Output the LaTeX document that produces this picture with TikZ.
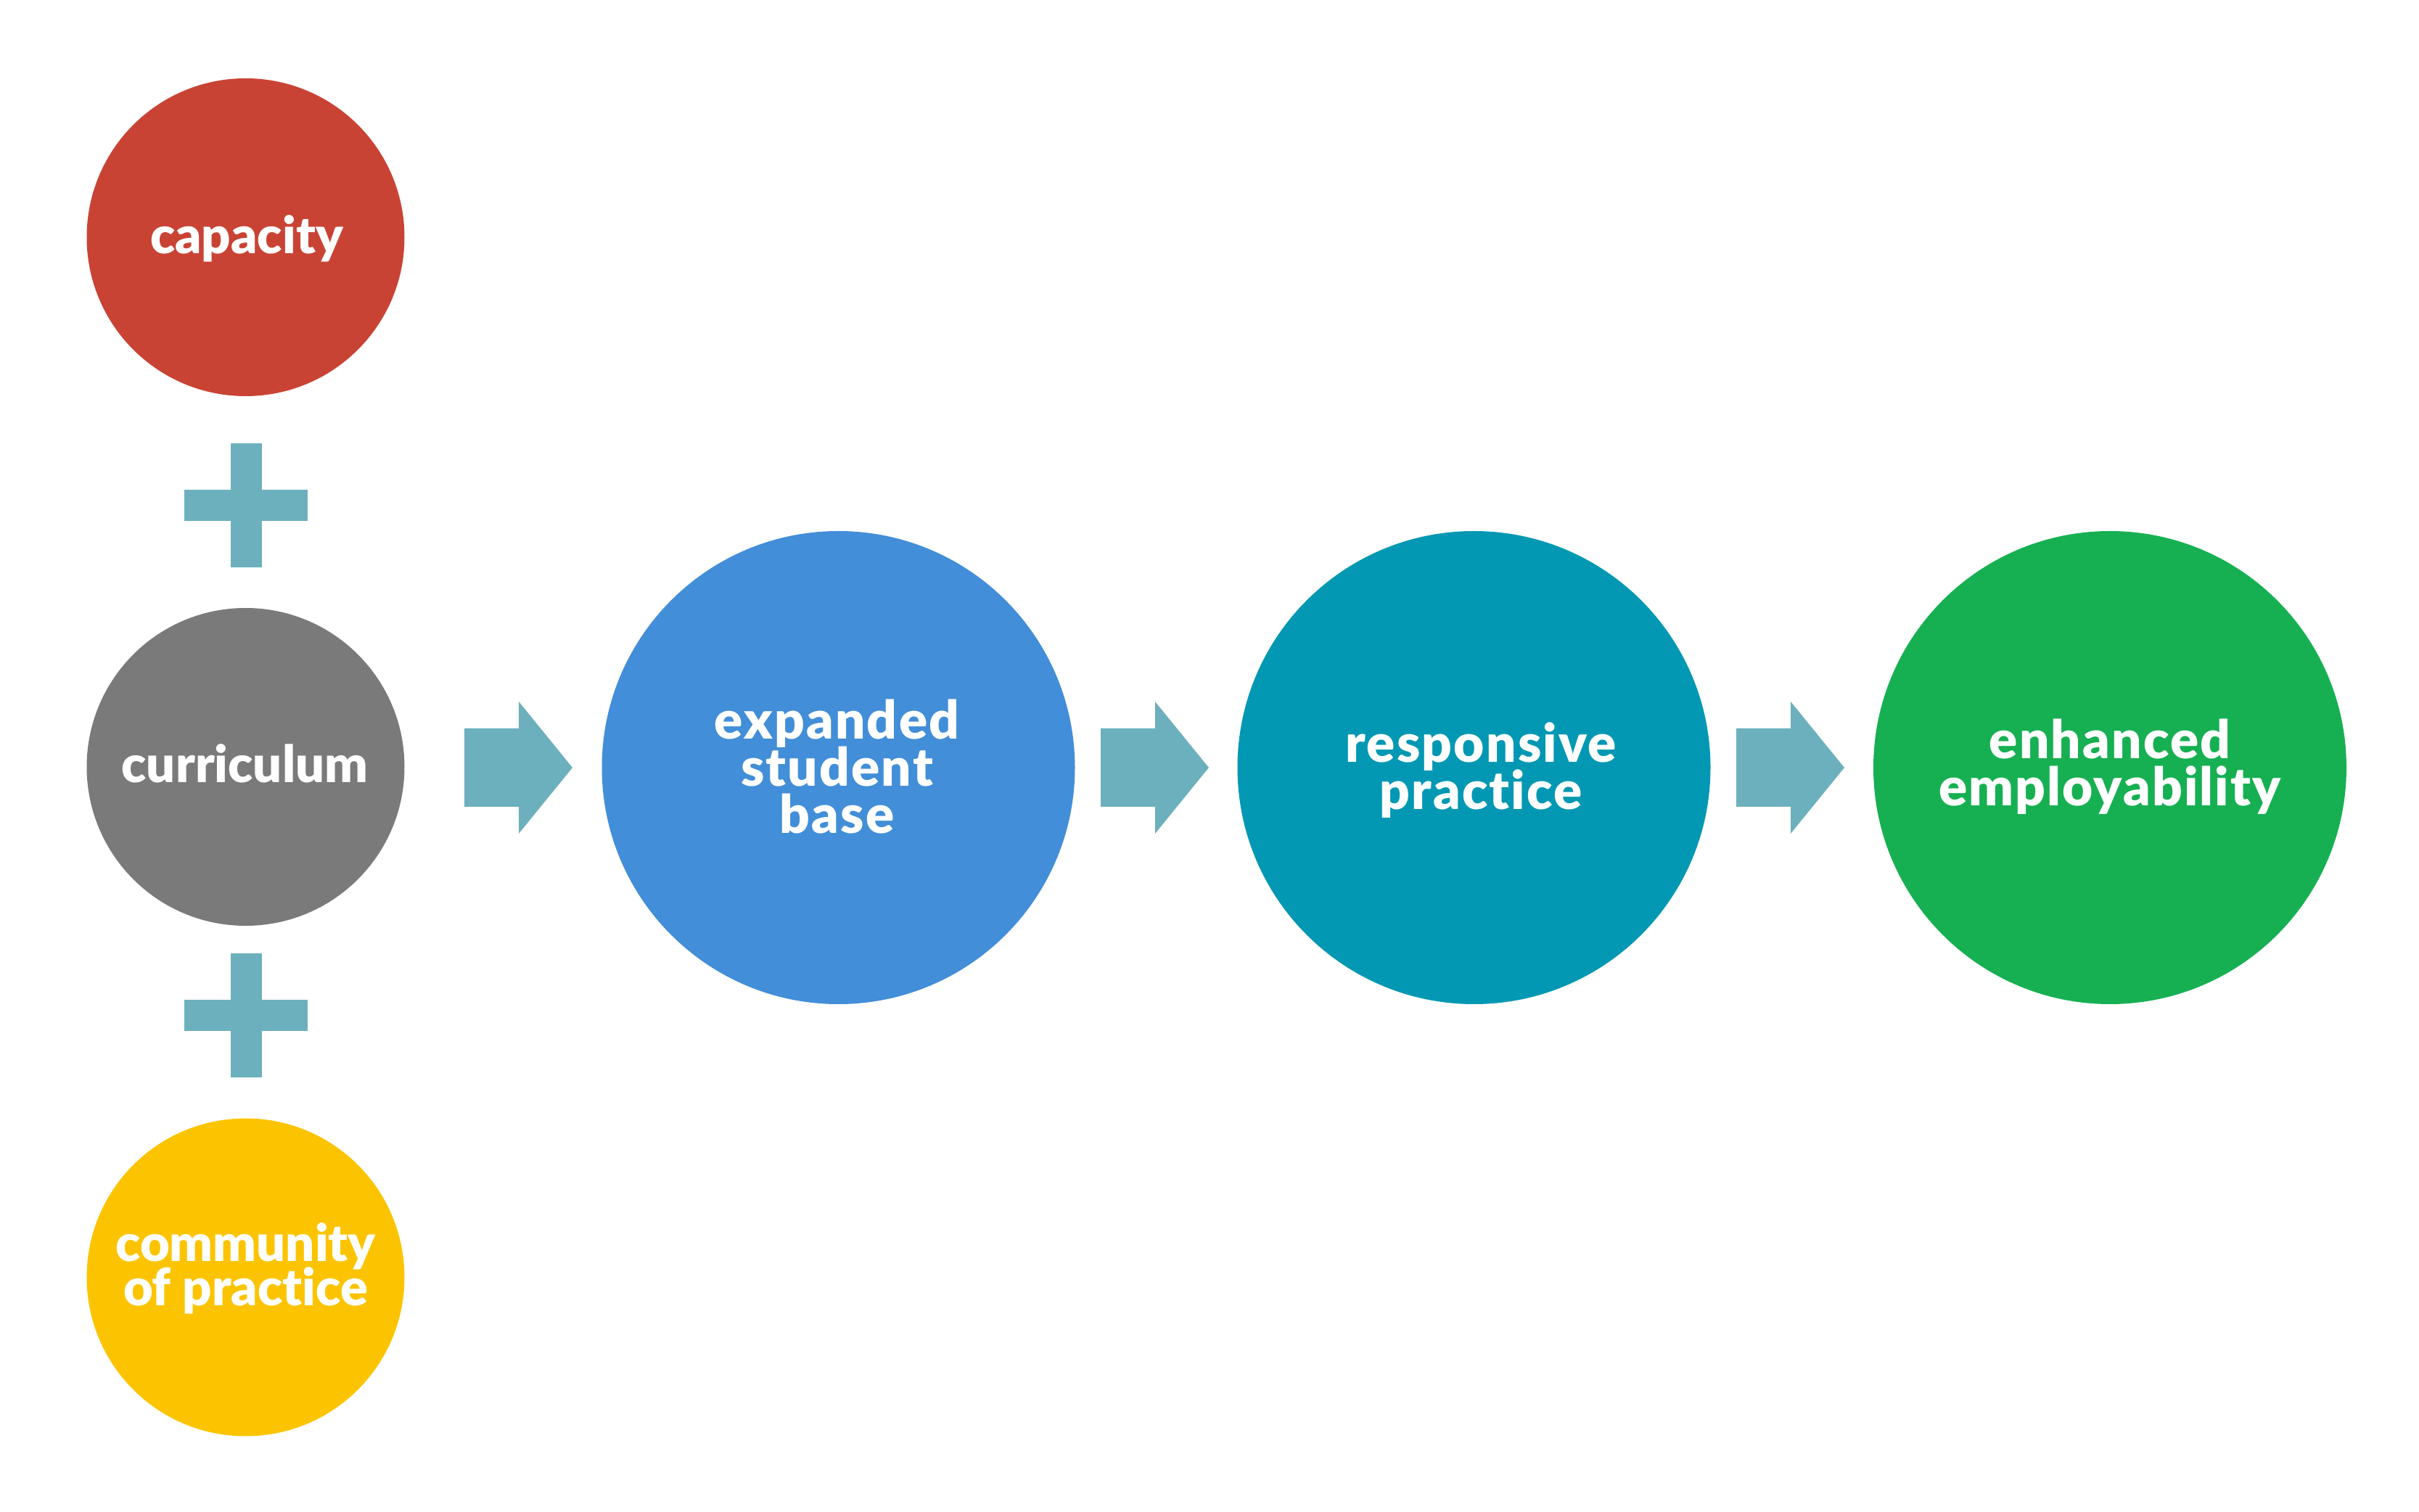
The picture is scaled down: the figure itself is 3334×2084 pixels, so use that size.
\documentclass[tikz,border=0pt]{standalone}
\usepackage{fontspec}
\setmainfont{Lato}[Ligatures=NoCommon]
\newfontfamily\lblfont{Lato Black}[Ligatures=NoCommon]
\newfontfamily\lblwidefont{Lato Black}[Ligatures=NoCommon,LetterSpace=3]
\definecolor{capred}{HTML}{C94334}
\definecolor{curgray}{HTML}{7A7A7A}
\definecolor{comyellow}{HTML}{FCC400}
\definecolor{expblue}{HTML}{428ED8}
\definecolor{respteal}{HTML}{0298B3}
\definecolor{enhgreen}{HTML}{16B052}
\definecolor{arrowteal}{HTML}{6DB0BD}
\begin{document}
\begin{tikzpicture}[x=0.25pt,y=-0.25pt,
  smallcirc/.style={circle,inner sep=0pt,draw=none,minimum size=109.5pt},
  bigcirc/.style={circle,inner sep=0pt,draw=none,minimum size=163pt},
  lbl/.style={text=white,anchor=base,align=center,inner sep=0pt,
    font={\fontsize{17.6}{16.25}\lblfont\lineskiplimit=-100pt}},
  lblc/.style={lbl,font={\fontsize{17.6}{15.25}\lblfont\lineskiplimit=-100pt}},
  lblw/.style={lbl,font={\fontsize{18.2}{16.25}\lblwidefont\lineskiplimit=-100pt}},
  blockfill/.style={fill=arrowteal}]
\useasboundingbox (0,0) rectangle (3334,2084);
% circles
\node[smallcirc,fill=capred] (cap) at (338.5,327) {};
\node[smallcirc,fill=curgray] (cur) at (338.5,1057) {};
\node[smallcirc,fill=comyellow] (com) at (338.5,1760.5) {};
\node[bigcirc,fill=expblue] (exp) at (1155.5,1058) {};
\node[bigcirc,fill=respteal] (resp) at (2031.5,1058) {};
\node[bigcirc,fill=enhgreen] (enh) at (2908,1058) {};
% labels (base anchor = baseline of the last line)
\node[lbl] (capl) at (340,350) {capacity};
\node[lbl] (curl) at (337.5,1079) {curriculum};
\node[lblc] (coml) at (338.5,1799) {community\\of practice};
\node[lblw] (expl) at (1153.5,1148.6) {expanded\\student\\base};
\node[lblw] (respl) at (2041,1116) {responsive\\practice};
\node[lblw] (enhl) at (2908,1110.5) {enhanced\\employability};
% plus signs
\coordinate (p1) at (339,697);
\coordinate (p2) at (339,1400);
\foreach \p in {p1,p2}{
  \fill[blockfill] ([xshift=-5.375pt,yshift=21.375pt]\p) rectangle ([xshift=5.375pt,yshift=-21.375pt]\p);
  \fill[blockfill] ([xshift=-21.25pt,yshift=5.375pt]\p) rectangle ([xshift=21.25pt,yshift=-5.375pt]\p);
}
% block arrows
\coordinate (a1) at (640,1058);
\coordinate (a2) at (1517,1058);
\coordinate (a3) at (2393,1058);
\foreach \a in {a1,a2,a3}{
  \fill[blockfill] ([yshift=13.5pt]\a) -- ([xshift=18.75pt,yshift=13.5pt]\a)
    -- ([xshift=18.75pt,yshift=22.75pt]\a) -- ([xshift=37.25pt]\a)
    -- ([xshift=18.75pt,yshift=-22.75pt]\a) -- ([xshift=18.75pt,yshift=-13.5pt]\a)
    -- ([yshift=-13.5pt]\a) -- cycle;
}
\end{tikzpicture}
\end{document}
